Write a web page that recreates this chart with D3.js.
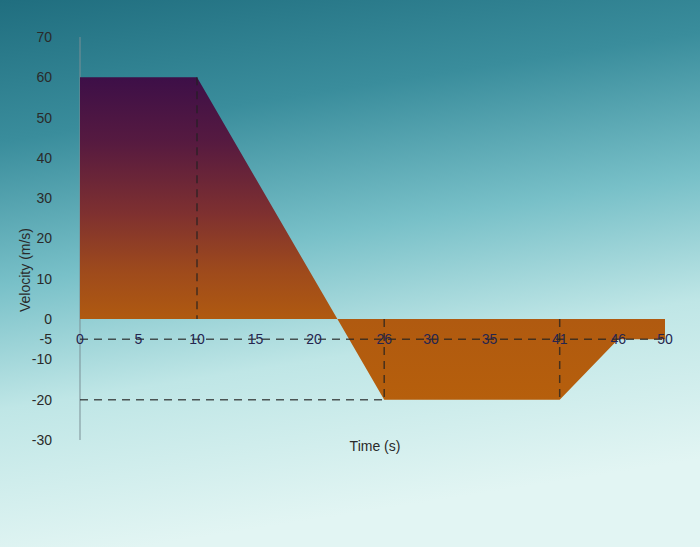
<!DOCTYPE html>
<html><head><meta charset="utf-8">
<script src="https://cdn.jsdelivr.net/npm/d3@7"></script>
<style>html,body{margin:0;padding:0;overflow:hidden;}</style>
</head><body>
<script>
const times = [0, 10, 22, 26, 41, 46, 50];
const velocity = [60, 60, 0, -20, -20, -5, -5];
const xTicks = [0, 5, 10, 15, 20, 26, 30, 35, 41, 46, 50];
const yTicks = [70, 60, 50, 40, 30, 20, 10, 0, -5, -10, -20, -30];
const dashedGuides = [
  {t0: 0, v0: -5, t1: 50, v1: -5},
  {t0: 0, v0: -20, t1: 26, v1: -20},
  {t0: 10, v0: 60, t1: 10, v1: 0},
  {t0: 26, v0: 0, t1: 26, v1: -20},
  {t0: 41, v0: 0, t1: 41, v1: -20}
];

const W = 700, H = 547;
const svg = d3.select("body").append("svg").attr("width", W).attr("height", H);
const defs = svg.append("defs");

const bg = defs.append("linearGradient").attr("id","bg").attr("x1",0).attr("y1",0).attr("x2",0.2).attr("y2",1);
[[0,"#206e7f"],[0.25,"#3a8d9c"],[0.5,"#78c0c8"],[0.72,"#bfe6e6"],[1,"#e2f5f3"]]
  .forEach(([o,c])=>bg.append("stop").attr("offset",o).attr("stop-color",c));
svg.append("rect").attr("width",W).attr("height",H).attr("fill","url(#bg)");

const x = d3.scaleLinear().domain([0,50]).range([80,665]);
const y = d3.scaleLinear().domain([-30,70]).range([440,37]);

const fg = defs.append("linearGradient").attr("id","fill").attr("gradientUnits","userSpaceOnUse")
  .attr("x1",0).attr("x2",0).attr("y1",y(60)).attr("y2",y(-20));
[[0,"#3d0f48"],[0.2,"#561a40"],[0.42,"#7e3030"],[0.6,"#9e4a1c"],[0.75,"#b05a10"],[1,"#b65f0c"]]
  .forEach(([o,c])=>fg.append("stop").attr("offset",o).attr("stop-color",c));

const data = times.map((t,i)=>({t, v: velocity[i]}));

// y axis line
svg.append("line").attr("x1",x(0)).attr("x2",x(0)).attr("y1",y(70)).attr("y2",y(-30))
  .attr("stroke","#7a8f95").attr("stroke-width",1);

const area = d3.area().x(d=>x(d.t)).y0(y(0)).y1(d=>y(d.v));
svg.append("path").datum(data).attr("d",area).attr("fill","url(#fill)");

// dashed guides
svg.append("g").selectAll("line").data(dashedGuides).join("line")
  .attr("x1",d=>x(d.t0)).attr("x2",d=>x(d.t1)).attr("y1",d=>y(d.v0)).attr("y2",d=>y(d.v1))
  .attr("stroke","#222").attr("stroke-opacity",0.75).attr("stroke-width",1.5).attr("stroke-dasharray","8,6");

const font = "'Liberation Sans', Arial, sans-serif";

// y tick labels
svg.append("g").selectAll("text").data(yTicks).join("text")
  .attr("x", 52).attr("y", d=>y(d)).attr("dy","0.35em").attr("text-anchor","end")
  .attr("font-family",font).attr("font-size",14).attr("fill","#2a2a2a").text(d=>d);

// x tick labels along -5 line
svg.append("g").selectAll("text").data(xTicks).join("text")
  .attr("x", d=>x(d)).attr("y", y(-5)).attr("dy","0.35em").attr("text-anchor","middle")
  .attr("font-family",font).attr("font-size",14).attr("fill","#25254f").text(d=>d);

svg.append("text").attr("x",375).attr("y",451).attr("text-anchor","middle")
  .attr("font-family",font).attr("font-size",14).attr("fill","#2a2a2a").text("Time (s)");
svg.append("text").attr("transform","translate(30,270) rotate(-90)").attr("text-anchor","middle")
  .attr("font-family",font).attr("font-size",14).attr("fill","#2a2a2a").text("Velocity (m/s)");
</script>
</body></html>
